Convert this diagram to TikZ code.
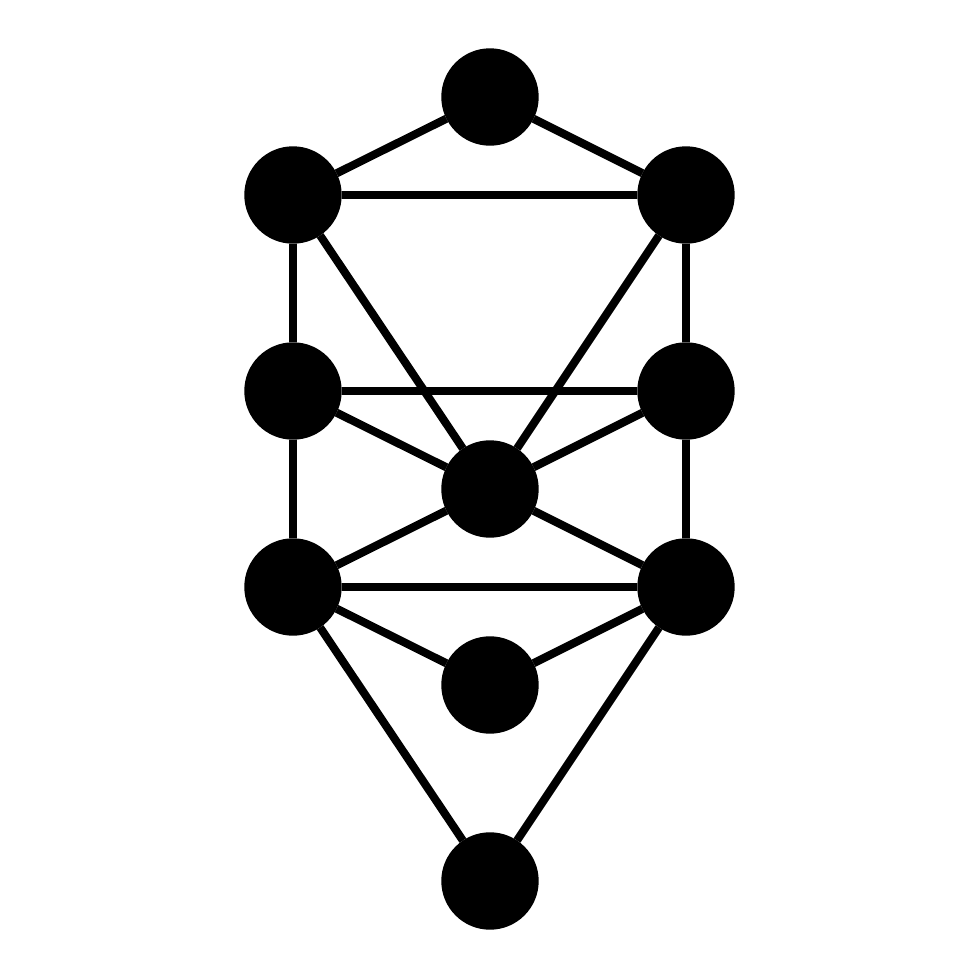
\documentclass[tikz,border=0pt]{standalone}
\usepackage{tikz}
\usetikzlibrary{positioning}
\usetikzlibrary{calc}
\tikzstyle{sphere}=[circle,fill=black,draw=black,minimum size=0.96cm,inner sep=0pt]
\tikzstyle{link} = [draw,line width=2.3pt]

\begin{document}
\begin{tikzpicture}

  \useasboundingbox (0,0) rectangle (9.8,9.8);

  \foreach \x/\y/\name in {4.90/8.83/kt, 2.93/7.85/bn, 6.86/7.85/ch, 2.93/5.89/gv, 6.86/5.89/hs,
                           4.90/4.91/tf, 2.93/3.93/hd, 6.86/3.93/nz, 4.90/2.95/ys, 4.90/0.99/ml}
          \node[sphere] (\name) at (\x, \y) {};

    \foreach \source/\dest in {kt/bn, kt/ch, bn/ch, bn/gv, ch/hs, bn/tf, ch/tf, gv/hs,
                               gv/tf, hs/tf, gv/hd, hs/nz, tf/hd, tf/nz, hd/nz,
                               hd/ys, nz/ys, hd/ml, nz/ml}
         \draw[link] (\source) -- (\dest);

\end{tikzpicture}
\end{document}
